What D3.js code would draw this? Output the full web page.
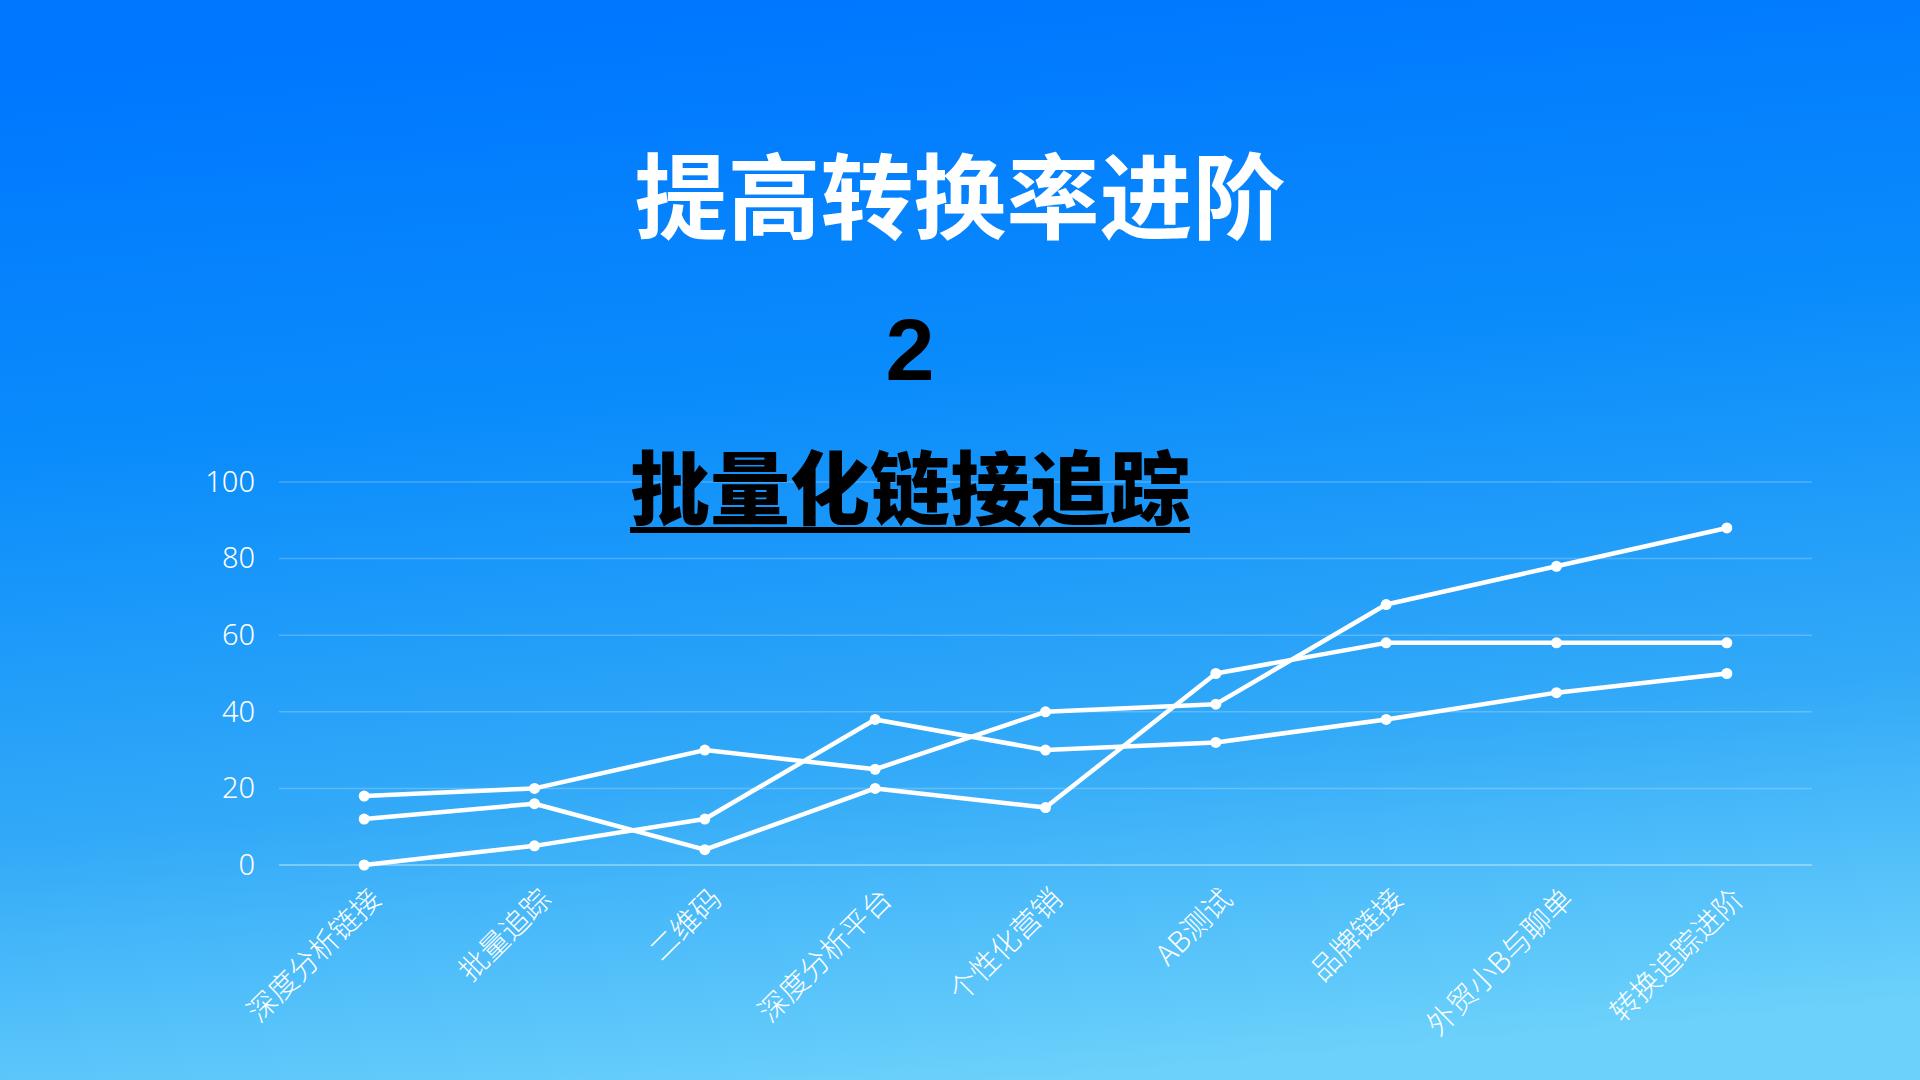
<!DOCTYPE html>
<html>
<head>
<meta charset="utf-8">
<script src="https://d3js.org/d3.v7.min.js"></script>
<style>
  html, body { margin: 0; padding: 0; overflow: hidden; }
  svg { display: block; }
</style>
</head>
<body>
<div id="chart"></div>
<script>
// chart data
const categories = ["深度分析链接", "批量追踪", "二维码", "深度分析平台", "个性化营销", "AB测试", "品牌链接", "外贸小B与聊单", "转换追踪进阶"];
const seriesA = [18, 20, 30, 25, 40, 42, 68, 78, 88];
const seriesB = [12, 16, 4, 20, 15, 50, 58, 58, 58];
const seriesC = [0, 5, 12, 38, 30, 32, 38, 45, 50];
const yTicks = [0, 20, 40, 60, 80, 100];

const titleText = "提高转换率进阶";
const numberText = "2";
const subtitleText = "批量化链接追踪";

const W = 1920, H = 1080;
const plot = { left: 279, right: 1812, top: 482, bottom: 865 };

const svg = d3.select("#chart").append("svg")
    .attr("width", W)
    .attr("height", H);

// background gradient
const defs = svg.append("defs");
const grad = defs.append("linearGradient")
    .attr("id", "bg")
    .attr("x1", "0.42").attr("y1", "0")
    .attr("x2", "0.58").attr("y2", "1");
grad.append("stop").attr("offset", "0%").attr("stop-color", "#0077ff");
grad.append("stop").attr("offset", "35%").attr("stop-color", "#0a8cfb");
grad.append("stop").attr("offset", "70%").attr("stop-color", "#33aaf8");
grad.append("stop").attr("offset", "100%").attr("stop-color", "#6dd2fb");

svg.append("rect")
    .attr("width", W).attr("height", H)
    .attr("fill", "url(#bg)");

// scales
const x = d3.scalePoint()
    .domain(categories)
    .range([plot.left, plot.right])
    .padding(0.5);

const y = d3.scaleLinear()
    .domain([0, 100])
    .range([plot.bottom, plot.top]);

// gridlines
svg.append("g")
    .selectAll("line")
    .data(yTicks)
    .join("line")
    .attr("x1", plot.left)
    .attr("x2", plot.right)
    .attr("y1", d => y(d))
    .attr("y2", d => y(d))
    .attr("stroke", "#ffffff")
    .attr("stroke-opacity", d => d === 0 ? 0.45 : 0.22)
    .attr("stroke-width", 1.5);

// y axis labels
const yAxis = svg.append("g")
    .attr("transform", "translate(" + (plot.left - 24) + ",0)")
    .call(d3.axisLeft(y).tickValues(yTicks).tickSize(0).tickPadding(0));
yAxis.select(".domain").remove();
yAxis.selectAll("text")
    .attr("fill", "#ffffff")
    .attr("font-family", "'Noto Sans', 'Liberation Sans', sans-serif")
    .attr("font-weight", 300)
    .attr("font-size", 29);

// x axis labels, rotated
const xAxis = svg.append("g")
    .attr("transform", "translate(0," + plot.bottom + ")")
    .call(d3.axisBottom(x).tickSize(0).tickPadding(0));
xAxis.select(".domain").remove();
xAxis.selectAll("text")
    .attr("fill", "#ffffff")
    .attr("font-family", "'Noto Sans CJK SC', sans-serif")
    .attr("font-weight", 300)
    .attr("font-size", 29)
    .attr("dy", null)
    .attr("text-anchor", "end")
    .attr("transform", "translate(18,36) rotate(-45)");

// lines and points
const line = d3.line()
    .x((d, i) => x(categories[i]))
    .y(d => y(d));

const allSeries = [seriesA, seriesB, seriesC];

svg.append("g")
    .selectAll("path")
    .data(allSeries)
    .join("path")
    .attr("d", line)
    .attr("fill", "none")
    .attr("stroke", "#ffffff")
    .attr("stroke-width", 4.5)
    .attr("stroke-linejoin", "round");

allSeries.forEach(function(s) {
  svg.append("g")
    .selectAll("circle")
    .data(s)
    .join("circle")
    .attr("cx", (d, i) => x(categories[i]))
    .attr("cy", d => y(d))
    .attr("r", 5.5)
    .attr("fill", "#ffffff");
});

// titles
svg.append("text")
    .attr("x", 960)
    .attr("y", 232)
    .attr("text-anchor", "middle")
    .attr("fill", "#ffffff")
    .attr("font-family", "'Noto Sans CJK SC', sans-serif")
    .attr("font-weight", 700)
    .attr("font-size", 93)
    .text(titleText);

svg.append("text")
    .attr("x", 910)
    .attr("y", 380)
    .attr("text-anchor", "middle")
    .attr("fill", "#000000")
    .attr("font-family", "'Liberation Sans', Arial, sans-serif")
    .attr("font-weight", 700)
    .attr("font-size", 88)
    .text(numberText);

const sub = svg.append("text")
    .attr("x", 910)
    .attr("y", 518)
    .attr("text-anchor", "middle")
    .attr("fill", "#000000")
    .attr("font-family", "'Noto Sans CJK SC', sans-serif")
    .attr("font-weight", 900)
    .attr("font-size", 80)
    .text(subtitleText);

const bb = sub.node().getBBox();
svg.append("rect")
    .attr("x", bb.x)
    .attr("y", 527)
    .attr("width", bb.width)
    .attr("height", 6)
    .attr("fill", "#000000");
</script>
</body>
</html>
